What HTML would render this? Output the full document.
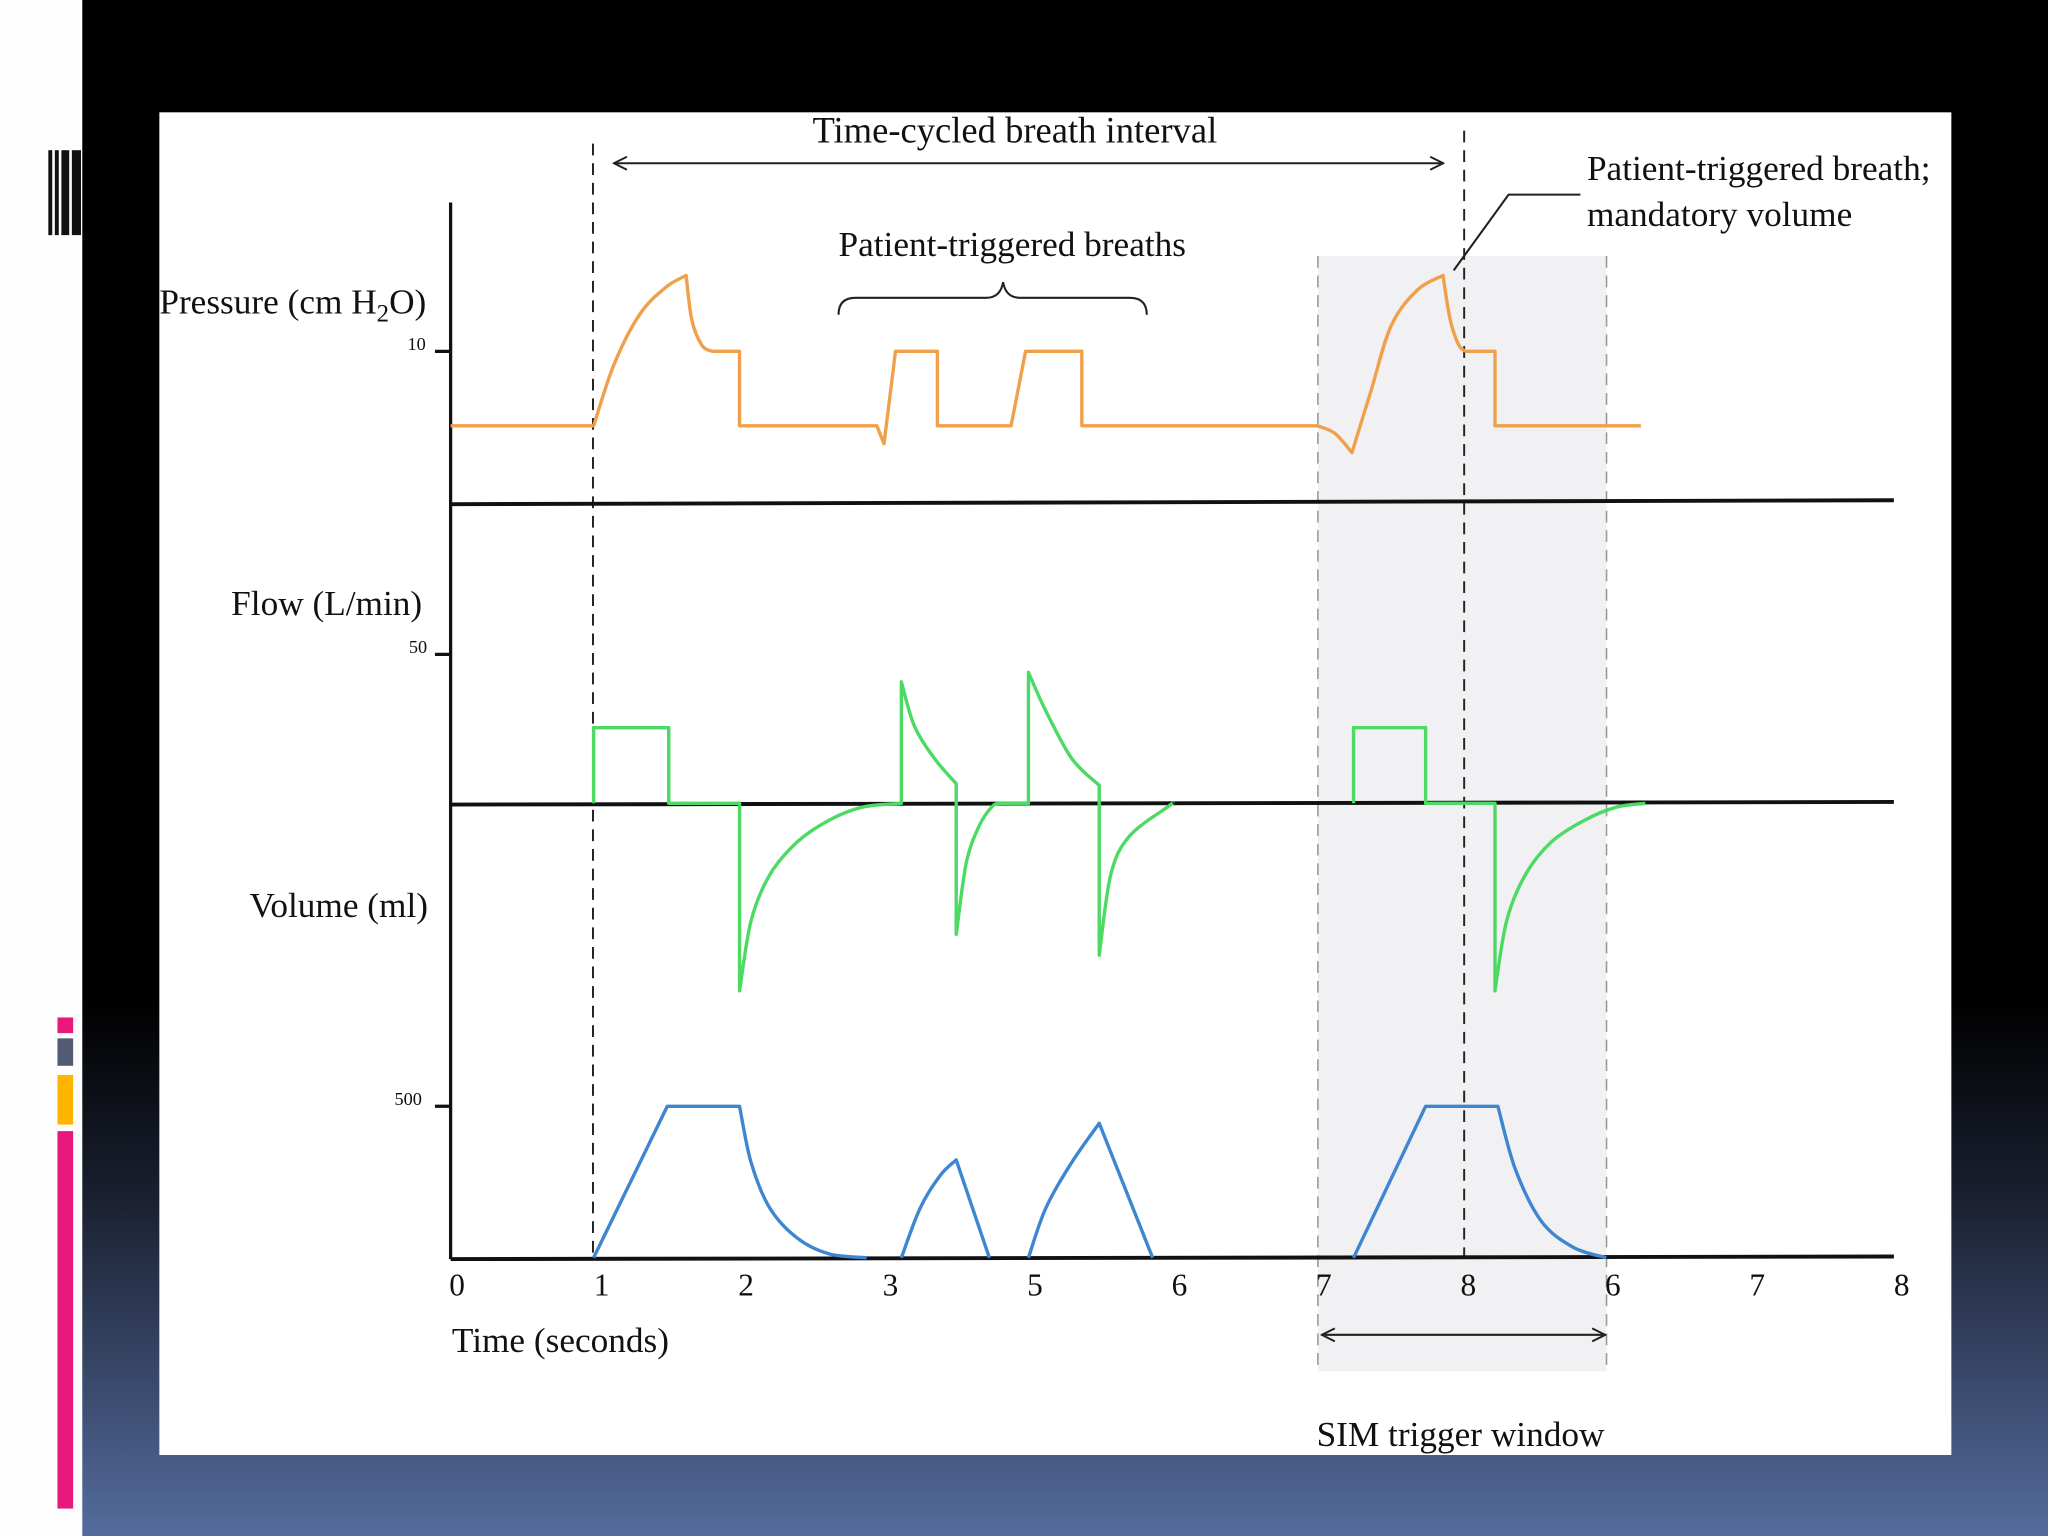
<!DOCTYPE html>
<html><head><meta charset="utf-8"><style>
html,body{margin:0;padding:0;width:2048px;height:1536px;overflow:hidden;background:#000}
svg{display:block}
text{font-family:"Liberation Serif",serif;fill:#111}
</style></head><body>
<svg id="chart" width="2048" height="1536" viewBox="0 0 1568 1176" xmlns="http://www.w3.org/2000/svg">
<defs>
<linearGradient id="bg" x1="0" y1="0" x2="0" y2="1">
<stop offset="0" stop-color="#000"/><stop offset="0.65" stop-color="#000"/><stop offset="0.78" stop-color="#1a2030"/><stop offset="1" stop-color="#546c9d"/></linearGradient>
<clipPath id="panelclip"><rect x="122" y="86" width="1372" height="1028"/></clipPath>
<marker id="ah" viewBox="0 0 12 12" refX="11" refY="6" markerWidth="12" markerHeight="12" orient="auto-start-reverse" markerUnits="userSpaceOnUse"><path d="M1,1 L11,6 L1,11" fill="none" stroke="#222" stroke-width="1.5"/></marker>
</defs>
<rect x="0" y="0" width="1568" height="1176" fill="url(#bg)"/>
<rect x="0" y="0" width="63" height="1176" fill="#fdfdfd"/>
<g fill="#111">
<rect x="37" y="115" width="3" height="65"/><rect x="42" y="115" width="3" height="65"/><rect x="47" y="115" width="6" height="65"/><rect x="55" y="115" width="7" height="65"/></g>
<g>
<rect x="44" y="779" width="12" height="12" fill="#e8197b"/><rect x="44" y="795" width="12" height="21" fill="#515b72"/>
<rect x="44" y="823" width="12" height="38" fill="#ffb400"/><rect x="44" y="866" width="12" height="289" fill="#e8197b"/></g>
<rect x="122" y="86" width="1372" height="1028" fill="#fff"/>
<g clip-path="url(#panelclip)" id="plot">
<rect x="1009" y="196" width="221" height="854" fill="#f1f1f3"/>
</g>
</svg>
<script>
const tickLabels=["0","1","2","3","5","6","7","8","6","7","8"];
const pressure=[[0,5],[0.99,5],[1.13,9.1],[1.31,12.5],[1.49,14.3],[1.63,15.1],[1.67,12.1],[1.74,10.4],[1.81,10],[2.0,10],[2.0,5],[2.95,5],[3.0,3.8],[3.08,10],[3.37,10],[3.37,5],[3.88,5],[3.98,10],[4.37,10],[4.37,5],[6.0,5],[6.12,4.5],[6.24,3.2],[6.37,7.3],[6.51,11.7],[6.69,14.1],[6.87,15.1],[6.92,12.1],[6.98,10.4],[7.03,10],[7.23,10],[7.23,5],[8.24,5]];
const flow=[[0.99,0],[0.99,25.4],[1.51,25.4],[1.51,0],[2.0,0],[2.0,-63],[2.08,-39.5],[2.21,-24],[2.4,-13],[2.62,-5.7],[2.85,-1.3],[3.12,0],[3.12,40.8],[3.21,26],[3.35,15],[3.5,6.6],[3.5,-44],[3.57,-20],[3.66,-7.5],[3.75,-1],[3.8,0],[4.0,0],[4.0,44],[4.12,31],[4.3,15],[4.49,6],[4.49,-51],[4.57,-24],[4.7,-11],[4.97,-1],[5.0,0]];
const flow2=[[6.25,0],[6.25,25.4],[6.75,25.4],[6.75,0],[7.23,0],[7.23,-63],[7.31,-39.5],[7.44,-24],[7.62,-13],[7.85,-5.7],[8.07,-1.3],[8.27,0]];
const volume=[[0.99,0],[1.5,500],[2.0,500],[2.08,315],[2.21,164],[2.4,65],[2.62,13],[2.88,0]];
const volume2=[[3.12,0],[3.25,164],[3.39,272],[3.5,323],[3.73,0]];
const volume3=[[4.0,0],[4.12,164],[4.3,315],[4.49,444],[4.86,0]];
const volume4=[[6.25,0],[6.75,500],[7.25,500],[7.37,293],[7.55,121],[7.77,35],[8.0,0]];
const NS="http://www.w3.org/2000/svg";
const plot=document.getElementById('plot');
const X=t=>345+110.6*t;
const YP=p=>383-p*11.4;
const YF=f=>615-f*2.28;
const YV=v=>963-v*0.232;
function mk(tag,attrs,parent){const e=document.createElementNS(NS,tag);for(const k in attrs)e.setAttribute(k,attrs[k]);(parent||plot).appendChild(e);return e;}
function txt(s,x,y,size,anchor){const e=mk('text',{x:x,y:y,'font-size':size,'text-anchor':anchor||'start'});e.textContent=s;return e;}
function straight(a,b){return Math.abs(a[0]-b[0])<0.5||Math.abs(a[1]-b[1])<0.5;}
function same(a,b,c,d){return Math.sign(b[1]-a[1])===Math.sign(d[1]-c[1]);}
function poly(arr,Y,color){
  const P=arr.map(d=>[X(d[0]),Y(d[1])]);
  let d='M'+P[0][0].toFixed(1)+','+P[0][1].toFixed(1);
  for(let i=0;i<P.length-1;i++){
    const p1=P[i],p2=P[i+1];
    if(straight(p1,p2)){d+=' L'+p2[0].toFixed(1)+','+p2[1].toFixed(1);continue;}
    const p0=(i>0&&!straight(P[i-1],p1)&&same(P[i-1],p1,p1,p2))?P[i-1]:p1;
    const p3=(i+2<P.length&&!straight(p2,P[i+2])&&same(p1,p2,p2,P[i+2]))?P[i+2]:p2;
    const c1=[p1[0]+(p2[0]-p0[0])/6,p1[1]+(p2[1]-p0[1])/6];
    const c2=[p2[0]-(p3[0]-p1[0])/6,p2[1]-(p3[1]-p1[1])/6];
    d+=' C'+c1.map(v=>v.toFixed(1)).join(',')+' '+c2.map(v=>v.toFixed(1)).join(',')+' '+p2[0].toFixed(1)+','+p2[1].toFixed(1);
  }
  return mk('path',{d:d,fill:'none',stroke:color,'stroke-width':2.6,'stroke-linejoin':'round'});
}
let e;
e=mk('line',{x1:1009,y1:196,x2:1009,y2:1050,stroke:'#999','stroke-width':1.2,'stroke-dasharray':'9 6'});

e=mk('line',{x1:1230,y1:196,x2:1230,y2:1050,stroke:'#999','stroke-width':1.2,'stroke-dasharray':'9 6'});

e=mk('line',{x1:454,y1:110,x2:454,y2:963,stroke:'#222','stroke-width':1.5,'stroke-dasharray':'9 6'});

e=mk('line',{x1:1121,y1:100,x2:1121,y2:963,stroke:'#222','stroke-width':1.5,'stroke-dasharray':'9 6'});

e=mk('line',{x1:345,y1:155,x2:345,y2:964,stroke:'#111','stroke-width':2.5});

e=mk('line',{x1:345,y1:386,x2:1450,y2:383,stroke:'#111','stroke-width':3});

e=mk('line',{x1:345,y1:616,x2:1450,y2:614,stroke:'#111','stroke-width':3});

e=mk('line',{x1:345,y1:964,x2:1450,y2:962,stroke:'#111','stroke-width':3});

[[YP(10),'10',312],[YF(50),'50',313],[YV(500),'500',302]].forEach(d=>{
e=mk('line',{x1:333,y1:d[0],x2:345,y2:d[0],stroke:'#111','stroke-width':2.5});

e=txt(d[1],d[2],d[0]-1,14);

});
tickLabels.forEach((s,i)=>{e=txt(s,X(i)+5,992,24,'middle');
});
e=poly(pressure,YP,'#f0a04a');
e=poly(flow,YF,'#4cd964');
e=poly(flow2,YF,'#4cd964');
[volume,volume2,volume3,volume4].forEach(v=>{e=poly(v,YV,'#3f86d0');
});
e=txt('Time-cycled breath interval',777,109,28,'middle');
e=mk('line',{x1:470,y1:125,x2:1105,y2:125,stroke:'#222','stroke-width':1.6,'marker-start':'url(#ah)','marker-end':'url(#ah)'});

e=txt('Patient-triggered breaths',775,196,27,'middle');
e=mk('path',{d:'M642,241 Q642,228 655,228 L755,228 Q766,228 768,216 Q770,228 781,228 L865,228 Q878,228 878,241',fill:'none',stroke:'#222','stroke-width':1.6});

e=txt('Patient-triggered breath;',1215,138,27);
e=txt('mandatory volume',1215,173,27);
e=mk('polyline',{points:'1210,149 1155,149 1113,207',fill:'none',stroke:'#222','stroke-width':1.6});

e=txt('Pressure (cm H',122,240,27);
const t2=document.createElementNS(NS,'tspan');t2.setAttribute('dy','6');t2.setAttribute('font-size','19');t2.textContent='2';e.appendChild(t2);
const t3=document.createElementNS(NS,'tspan');t3.setAttribute('dy','-6');t3.textContent='O)';e.appendChild(t3);
e=txt('Flow (L/min)',177,471,27);
e=txt('Volume (ml)',191,702,27);
e=txt('Time (seconds)',346,1035,27);
e=mk('line',{x1:1012,y1:1022,x2:1229,y2:1022,stroke:'#222','stroke-width':1.6,'marker-start':'url(#ah)','marker-end':'url(#ah)'});

e=txt('SIM trigger window',1008,1107,27);
</script>
</body></html>
